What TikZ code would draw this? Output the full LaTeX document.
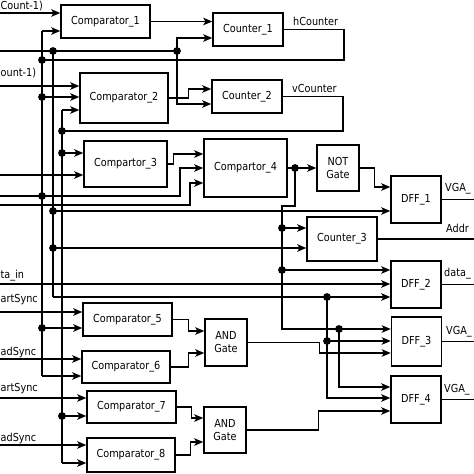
\documentclass[tikz,border=0pt]{standalone}
\usepackage{fontspec}
\setmainfont{DejaVu Sans}[FakeStretch=0.88]
\usetikzlibrary{arrows.meta,calc}
\tikzstyle{block}=[draw,line width=1.5pt,inner sep=0pt,align=center,font=\fontsize{11}{13}\selectfont]
\tikzstyle{sig}=[inner sep=0pt,font=\fontsize{11}{13}\selectfont]
\tikzstyle{line}=[line width=1.35pt]
\tikzstyle{arrow}=[-{Stealth[length=9pt,width=7.5pt,inset=2.2pt]},line]
\tikzset{x=1pt,y=-1pt}

\begin{document}
\begin{tikzpicture}
    \useasboundingbox (0,0) rectangle (474,474);
    \clip (0,0) rectangle (474,474);

    \node[block,minimum width=89pt,minimum height=33pt] (comparator1) at (105.5,21.5) {Comparator\_1};
    \node[block,minimum width=70pt,minimum height=33pt] (counter1) at (248,29.5) {Counter\_1};
    \node[block,minimum width=88pt,minimum height=50pt] (comparator2) at (124,98) {Comparator\_2};
    \node[block,minimum width=70pt,minimum height=33pt] (counter2) at (247,96.5) {Counter\_2};
    \node[block,minimum width=83pt,minimum height=46pt] (comparator3) at (125.5,164) {Compartor\_3};
    \node[block,minimum width=83pt,minimum height=58pt] (comparator4) at (245.5,168) {Compartor\_4};
    \node[block,minimum width=42pt,minimum height=46pt] (notgate) at (338,168) {NOT\\Gate};
    \node[block,minimum width=50pt,minimum height=47pt] (dff1) at (416,199.5) {DFF\_1};
    \node[block,minimum width=70pt,minimum height=44pt] (counter3) at (342,239) {Counter\_3};
    \node[block,minimum width=50pt,minimum height=47pt] (dff2) at (416,284.5) {DFF\_2};
    \node[block,minimum width=50pt,minimum height=49pt] (dff3) at (416.5,341.5) {DFF\_3};
    \node[block,minimum width=50pt,minimum height=47pt] (dff4) at (416,399.5) {DFF\_4};
    \node[block,minimum width=89pt,minimum height=33pt] (comparator5) at (127.5,319.5) {Comparator\_5};
    \node[block,minimum width=88pt,minimum height=32pt] (comparator6) at (126,367) {Comparator\_6};
    \node[block,minimum width=42pt,minimum height=47pt] (andgate1) at (226,342.5) {AND\\Gate};
    \node[block,minimum width=89pt,minimum height=32pt] (comparator7) at (131.5,407) {Comparator\_7};
    \node[block,minimum width=88pt,minimum height=34pt] (comparator8) at (131,455) {Comparator\_8};
    \node[block,minimum width=42pt,minimum height=46pt] (andgate2) at (225,430) {AND\\Gate};

    % inputs at the left edge
    \node[sig,anchor=west] (hcountlabel) at (0.5,6) {Count-1)};
    \node[sig,anchor=west] (vcountlabel) at (0.5,73) {ount-1)};
    \node[sig,anchor=west] (datalabel) at (0.5,276) {ta\_in};
    \node[sig,anchor=west] (hstartlabel) at (0.5,300) {artSync};
    \node[sig,anchor=west] (hendlabel) at (0.5,352) {adSync};
    \node[sig,anchor=west] (vstartlabel) at (0.5,389) {artSync};
    \node[sig,anchor=west] (vendlabel) at (0.5,438) {adSync};
    \coordinate (hcountin) at (0,13);
    \coordinate (clk) at (0,51);
    \coordinate (vcountin) at (0,86);
    \coordinate (cmpin) at (0,175);
    \coordinate (cmpina) at (0,196);
    \coordinate (cmpinb) at (0,205);
    \coordinate (datain) at (0,284);
    \coordinate (hstart) at (0,312);
    \coordinate (hend) at (0,359);
    \coordinate (vstart) at (0,398);
    \coordinate (vend) at (0,445);
    \coordinate (rightedge) at (474,0);

    % buses and junctions
    \coordinate (hbustop) at (42,31);
    \coordinate (hbusbot) at (42,376);
    \coordinate (hfb) at (42,60);
    \coordinate (hc2) at (42,97);
    \coordinate (hc4) at (42,196);
    \coordinate (hc5) at (42,328);
    \coordinate (hloop) at (344,60);
    \coordinate (clkbus) at (53,51);
    \coordinate (clkbot) at (53,297);
    \coordinate (clkd1) at (53,211);
    \coordinate (clkc3) at (53,248);
    \coordinate (clkr) at (177,51);
    \coordinate (vbustop) at (62,110);
    \coordinate (vbusbot) at (62,463);
    \coordinate (vfb) at (62,131);
    \coordinate (vc3) at (62,153);
    \coordinate (vc7) at (62,416);
    \coordinate (vloop) at (343,131);
    \coordinate (c4out) at (295,168);
    \coordinate (enbus) at (282,206);
    \coordinate (en1) at (282,228);
    \coordinate (en2) at (282,270);
    \coordinate (en3) at (339,329);
    \coordinate (clk3) at (327,297);
    \coordinate (clk4) at (327,341);

    \draw[arrow] (hcountin) -- (comparator1.west |- hcountin);
    \draw[arrow] (hbustop) -- (comparator1.west |- hbustop);
    \draw[line] (hbustop) -- (hbusbot);
    \draw[arrow] (comparator1.east) -- (comparator1.east -| counter1.west);
    \draw[line] (counter1.east) -| (hloop) -- (hfb);
    \node[sig,anchor=west] (hcounter) at (293,21) {hCounter};

    \draw[line] (clk) -- (clkr);
    \draw[arrow] (clkr) |- (counter1.west |- 0,38);
    \draw[arrow] (clkr) |- (counter2.west |- 0,104);
    \draw[line] (clkbus) -- (clkbot);

    \draw[arrow] (vcountin) -- (comparator2.west |- vcountin);
    \draw[arrow] (hc2) -- (comparator2.west |- hc2);
    \draw[arrow] (vbustop) -- (comparator2.west |- vbustop);
    \draw[line] (vbustop) -- (vbusbot);
    \draw[arrow] (comparator2.east) -- ++(20,0) |- (counter2.west |- 0,89);
    \draw[line] (counter2.east) -| (vloop) -- (vfb);
    \node[sig,anchor=west] (vcounter) at (292,88) {vCounter};

    \draw[arrow] (vc3) -- (comparator3.west |- vc3);
    \draw[arrow] (cmpin) -- (comparator3.west |- cmpin);
    \draw[arrow] (comparator3.east) -- ++(6,0) |- (comparator4.west |- 0,154);
    \draw[arrow] (cmpina) -- ++(180,0) |- (comparator4.west |- 0,168);
    \draw[arrow] (cmpinb) -- ++(190,0) |- (comparator4.west |- 0,183);
    \draw[arrow] (comparator4.east) -- (notgate.west);
    \draw[arrow] (notgate.east) -- ++(15,0) |- (dff1.west |- 0,187);
    \draw[arrow] (clkd1) -- (dff1.west |- clkd1);

    \draw[arrow] (c4out) |- (enbus) |- (dff3.west |- en3);
    \draw[arrow] (en1) -- (counter3.west |- en1);
    \draw[arrow] (clkc3) -- (counter3.west |- clkc3);
    \draw[arrow] (en2) -- (dff2.west |- en2);
    \draw[arrow] (datain) -- (dff2.west |- datain);
    \draw[arrow] (clkbot) -- (dff2.west |- clkbot);
    \draw[arrow] (clk4) -- (dff3.west |- clk4);
    \draw[arrow] (andgate1.east) -- ++(72,0) |- (dff3.west |- 0,353);
    \draw[arrow] (en3) |- (dff4.west |- 0,387);
    \draw[arrow] (clk3) |- (dff4.west |- 0,398);
    \draw[arrow] (andgate2.east) -- ++(72,0) |- (dff4.west |- 0,411);

    \draw[arrow] (hstart) -- (comparator5.west |- hstart);
    \draw[arrow] (hc5) -- (comparator5.west |- hc5);
    \draw[arrow] (comparator5.east) -- ++(16,0) |- (andgate1.west |- 0,331);
    \draw[arrow] (hend) -- (comparator6.west |- hend);
    \draw[arrow] (hbusbot) -- (comparator6.west |- hbusbot);
    \draw[arrow] (comparator6.east) -- ++(18,0) |- (andgate1.west |- 0,353);
    \draw[arrow] (vstart) -- (comparator7.west |- vstart);
    \draw[arrow] (vc7) -- (comparator7.west |- vc7);
    \draw[arrow] (comparator7.east) -- ++(15,0) |- (andgate2.west |- 0,418);
    \draw[arrow] (vend) -- (comparator8.west |- vend);
    \draw[arrow] (vbusbot) -- (comparator8.west |- vbusbot);
    \draw[arrow] (comparator8.east) -- ++(15,0) |- (andgate2.west |- 0,442);

    % outputs at the right edge
    \draw[line] (dff1.east) -- (dff1.east -| rightedge);
    \draw[line] (counter3.east) -- (counter3.east -| rightedge);
    \draw[line] (dff2.east) -- (dff2.east -| rightedge);
    \draw[line] (dff3.east) -- (dff3.east -| rightedge);
    \draw[line] (dff4.east) -- (dff4.east -| rightedge);
    \node[sig,anchor=west] (vgaone) at (445,189) {VGA\_};
    \node[sig,anchor=west] (addr) at (446,228) {Addr};
    \node[sig,anchor=west] (dataout) at (444,274) {data\_};
    \node[sig,anchor=west] (vgatwo) at (446,332) {VGA\_};
    \node[sig,anchor=west] (vgathree) at (444,390) {VGA\_};

    \foreach \j in {hfb,hc2,hc4,hc5,clkbus,clkd1,clkc3,clkr,vfb,vc3,vc7,c4out,en1,en2,en3,clk3,clk4}
        \fill (\j) circle (3.9pt);
\end{tikzpicture}
\end{document}
